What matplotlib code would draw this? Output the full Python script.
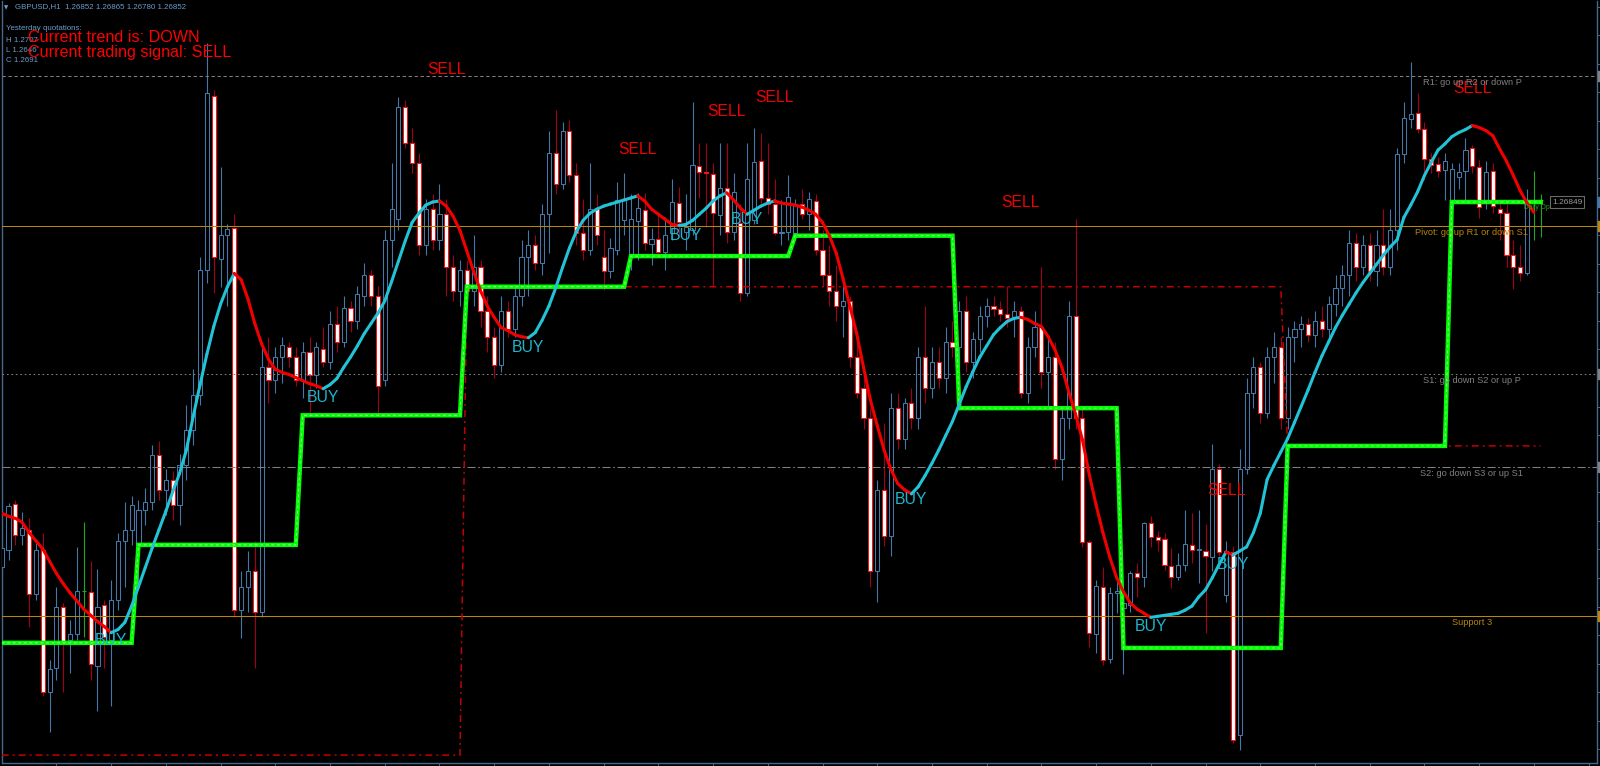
import numpy as np
import matplotlib
matplotlib.use("Agg")
import matplotlib.pyplot as plt
import matplotlib.transforms as mtrans
from matplotlib.collections import LineCollection
from matplotlib.patches import Rectangle
from matplotlib.ticker import MultipleLocator

plt.rcParams['font.family'] = ['Liberation Sans', 'DejaVu Sans']
plt.rcParams['lines.scale_dashes'] = False

# ---------------- GBPUSD H1 quotes ----------------
opens = [
    1.26133, 1.26167, 1.26257, 1.26197, 1.26207, 1.26081, 1.26167, 1.25889, 1.25935, 1.26055,
    1.25991, 1.26003, 1.26087, 1.26085, 1.25939, 1.26059, 1.25991, 1.26069, 1.26185, 1.26207,
    1.26177, 1.26245, 1.26261, 1.26353, 1.26285, 1.26305, 1.26255, 1.26333, 1.26403, 1.26471,
    1.26715, 1.27057, 1.26737, 1.26785, 1.26799, 1.26049, 1.26095, 1.26125, 1.26045, 1.26525,
    1.26501, 1.26545, 1.26565, 1.26545, 1.26501, 1.26555, 1.26509, 1.26561, 1.26535, 1.26609,
    1.26575, 1.26641, 1.26615, 1.26665, 1.26705, 1.26665, 1.26501, 1.26775, 1.26815, 1.27035,
    1.26965, 1.26925, 1.26765, 1.26835, 1.26775, 1.26825, 1.26721, 1.26675, 1.26715, 1.26675,
    1.26721, 1.26635, 1.26585, 1.26529, 1.26635, 1.26601, 1.26665, 1.26741, 1.26765, 1.26729,
    1.26825, 1.26945, 1.26885, 1.26989, 1.26901, 1.26789, 1.26755, 1.26835, 1.26741, 1.26713,
    1.26755, 1.26813, 1.26741, 1.26811, 1.26833, 1.26767, 1.26777, 1.26751, 1.26789, 1.26847,
    1.26791, 1.26795, 1.26919, 1.26907, 1.26903, 1.26823, 1.26877, 1.26791, 1.26807, 1.26671,
    1.26813, 1.26929, 1.26857, 1.26845, 1.26789, 1.26791, 1.26789, 1.26845, 1.26825, 1.26851,
    1.26755, 1.26705, 1.26675, 1.26645, 1.26655, 1.26545, 1.26485, 1.26425, 1.26125, 1.26285,
    1.26195, 1.26445, 1.26385, 1.26455, 1.26425, 1.26545, 1.26485, 1.26535, 1.26505, 1.26575,
    1.26565, 1.26635, 1.26535, 1.26581, 1.26625, 1.26645, 1.26639, 1.26629, 1.26621, 1.26635,
    1.26475, 1.26565, 1.26605, 1.26515, 1.26545, 1.26345, 1.26425, 1.26625, 1.26425, 1.26183,
    1.26003, 1.26095, 1.25953, 1.26083, 1.26053, 1.26059, 1.26121, 1.26115, 1.26219, 1.26193,
    1.26189, 1.26135, 1.26115, 1.26137, 1.26177, 1.26167, 1.26165, 1.26153, 1.26325, 1.26079,
    1.26163, 1.25805, 1.26325, 1.26475, 1.26525, 1.26435, 1.26545, 1.26565, 1.26425, 1.26585,
    1.26601, 1.26609, 1.26589, 1.26615, 1.26601, 1.26649, 1.26681, 1.26705, 1.26769, 1.26721,
    1.26765, 1.26713, 1.26765, 1.26721, 1.26795, 1.26943, 1.27011, 1.27023, 1.26993, 1.26933,
    1.26923, 1.26911, 1.26853, 1.26899, 1.26909, 1.26955, 1.26917, 1.26853, 1.26909, 1.26835,
    1.26827, 1.26745, 1.26721, 1.26709, 1.26851, 1.26852,
]
highs = [
    1.26187, 1.26259, 1.26265, 1.26241, 1.26229, 1.26181, 1.26201, 1.25951, 1.26095, 1.26063,
    1.26029, 1.26173, 1.26221, 1.26145, 1.26129, 1.26069, 1.26109, 1.26201, 1.26261, 1.26273,
    1.26265, 1.26289, 1.26373, 1.26381, 1.26325, 1.26321, 1.26355, 1.26451, 1.26521, 1.26741,
    1.27161, 1.27069, 1.26917, 1.26805, 1.26825, 1.26125, 1.26165, 1.26185, 1.26575, 1.26585,
    1.26565, 1.26585, 1.26575, 1.26565, 1.26575, 1.26585, 1.26575, 1.26605, 1.26635, 1.26645,
    1.26665, 1.26655, 1.26685, 1.26729, 1.26715, 1.26685, 1.26795, 1.26925, 1.27055, 1.27049,
    1.26995, 1.26945, 1.26855, 1.26865, 1.26885, 1.26855, 1.26745, 1.26735, 1.26735, 1.26785,
    1.26735, 1.26665, 1.26605, 1.26665, 1.26655, 1.26685, 1.26775, 1.26795, 1.26785, 1.26845,
    1.26989, 1.27029, 1.27005, 1.27009, 1.26925, 1.26855, 1.26925, 1.26865, 1.26795, 1.26779,
    1.26889, 1.26905, 1.26865, 1.26867, 1.26867, 1.26799, 1.26823, 1.26819, 1.26895, 1.26879,
    1.26865, 1.27045, 1.26965, 1.26965, 1.26925, 1.26965, 1.26965, 1.26905, 1.26845, 1.26965,
    1.26995, 1.26985, 1.26965, 1.26895, 1.26853, 1.26901, 1.26855, 1.26875, 1.26869, 1.26865,
    1.26795, 1.26765, 1.26725, 1.26685, 1.26665, 1.26585, 1.26525, 1.26445, 1.26305, 1.26415,
    1.26475, 1.26475, 1.26465, 1.26485, 1.26565, 1.26645, 1.26565, 1.26565, 1.26605, 1.26615,
    1.26655, 1.26665, 1.26595, 1.26645, 1.26661, 1.26665, 1.26655, 1.26685, 1.26655, 1.26645,
    1.26585, 1.26635, 1.26721, 1.26585, 1.26575, 1.26445, 1.26655, 1.26815, 1.26445, 1.26187,
    1.26109, 1.26133, 1.26095, 1.26105, 1.26075, 1.26125, 1.26141, 1.26221, 1.26233, 1.26205,
    1.26201, 1.26171, 1.26161, 1.26245, 1.26239, 1.26245, 1.26217, 1.26375, 1.26335, 1.26185,
    1.26175, 1.26365, 1.26505, 1.26545, 1.26535, 1.26565, 1.26595, 1.26585, 1.26605, 1.26615,
    1.26625, 1.26621, 1.26635, 1.26645, 1.26665, 1.26705, 1.26725, 1.26795, 1.26789, 1.26785,
    1.26789, 1.26795, 1.26835, 1.26835, 1.26955, 1.27045, 1.27123, 1.27063, 1.27005, 1.26945,
    1.26937, 1.26945, 1.26925, 1.26925, 1.26975, 1.26961, 1.26931, 1.26929, 1.26925, 1.26845,
    1.26845, 1.26775, 1.26765, 1.26875, 1.26909, 1.26865,
]
lows = [
    1.26117, 1.26147, 1.26177, 1.26177, 1.26017, 1.26069, 1.25881, 1.25811, 1.25913, 1.25889,
    1.25925, 1.25991, 1.25997, 1.25913, 1.25851, 1.25935, 1.25861, 1.26049, 1.26095, 1.26177,
    1.26095, 1.26215, 1.26245, 1.26265, 1.26235, 1.26225, 1.26215, 1.26305, 1.26373, 1.26451,
    1.26691, 1.26671, 1.26683, 1.26645, 1.26035, 1.25995, 1.26045, 1.25935, 1.26035, 1.26455,
    1.26475, 1.26495, 1.26525, 1.26489, 1.26465, 1.26435, 1.26485, 1.26525, 1.26521, 1.26555,
    1.26565, 1.26595, 1.26601, 1.26645, 1.26645, 1.26435, 1.26489, 1.26721, 1.26795, 1.26955,
    1.26905, 1.26745, 1.26745, 1.26755, 1.26755, 1.26665, 1.26655, 1.26645, 1.26655, 1.26645,
    1.26605, 1.26555, 1.26505, 1.26515, 1.26585, 1.26585, 1.26645, 1.26665, 1.26715, 1.26705,
    1.26749, 1.26865, 1.26875, 1.26889, 1.26765, 1.26735, 1.26745, 1.26765, 1.26677, 1.26701,
    1.26745, 1.26785, 1.26715, 1.26735, 1.26755, 1.26725, 1.26749, 1.26715, 1.26775, 1.26781,
    1.26755, 1.26785, 1.26857, 1.26801, 1.26683, 1.26785, 1.26769, 1.26775, 1.26655, 1.26665,
    1.26805, 1.26845, 1.26825, 1.26785, 1.26765, 1.26775, 1.26775, 1.26815, 1.26795, 1.26745,
    1.26685, 1.26645, 1.26615, 1.26585, 1.26525, 1.26465, 1.26405, 1.26095, 1.26065, 1.26175,
    1.26155, 1.26365, 1.26365, 1.26405, 1.26405, 1.26455, 1.26465, 1.26485, 1.26475, 1.26545,
    1.26525, 1.26515, 1.26505, 1.26555, 1.26605, 1.26625, 1.26615, 1.26605, 1.26585, 1.26465,
    1.26455, 1.26545, 1.26485, 1.26445, 1.26325, 1.26305, 1.26405, 1.26405, 1.26173, 1.25977,
    1.25965, 1.25941, 1.25945, 1.26043, 1.25923, 1.26045, 1.26075, 1.26095, 1.26173, 1.26165,
    1.26127, 1.26093, 1.26109, 1.26125, 1.26141, 1.26103, 1.26005, 1.26125, 1.26155, 1.26065,
    1.25789, 1.25775, 1.26315, 1.26445, 1.26415, 1.26425, 1.26495, 1.26405, 1.26405, 1.26535,
    1.26565, 1.26575, 1.26565, 1.26585, 1.26575, 1.26625, 1.26645, 1.26665, 1.26695, 1.26705,
    1.26695, 1.26685, 1.26705, 1.26705, 1.26755, 1.26925, 1.26995, 1.26985, 1.26893, 1.26905,
    1.26899, 1.26853, 1.26835, 1.26875, 1.26853, 1.26905, 1.26817, 1.26835, 1.26827, 1.26775,
    1.26721, 1.26679, 1.26695, 1.26705, 1.26775, 1.26780,
]
closes = [
    1.26171, 1.26253, 1.26197, 1.26211, 1.26081, 1.26167, 1.25889, 1.25933, 1.26055, 1.25985,
    1.26003, 1.26087, 1.26087, 1.25943, 1.26055, 1.25997, 1.26069, 1.26185, 1.26207, 1.26255,
    1.26245, 1.26261, 1.26353, 1.26285, 1.26305, 1.26255, 1.26333, 1.26403, 1.26471, 1.26715,
    1.27063, 1.26741, 1.26785, 1.26797, 1.26049, 1.26095, 1.26125, 1.26045, 1.26525, 1.26501,
    1.26545, 1.26569, 1.26545, 1.26501, 1.26555, 1.26509, 1.26565, 1.26535, 1.26609, 1.26575,
    1.26641, 1.26615, 1.26669, 1.26705, 1.26665, 1.26489, 1.26775, 1.26835, 1.27035, 1.26965,
    1.26925, 1.26765, 1.26835, 1.26775, 1.26825, 1.26721, 1.26675, 1.26715, 1.26675, 1.26721,
    1.26635, 1.26585, 1.26529, 1.26635, 1.26601, 1.26665, 1.26741, 1.26765, 1.26729, 1.26825,
    1.26945, 1.26885, 1.26989, 1.26901, 1.26789, 1.26755, 1.26835, 1.26785, 1.26713, 1.26759,
    1.26853, 1.26855, 1.26815, 1.26837, 1.26769, 1.26777, 1.26751, 1.26785, 1.26849, 1.26809,
    1.26801, 1.26921, 1.26907, 1.26905, 1.26827, 1.26877, 1.26791, 1.26869, 1.26671, 1.26895,
    1.26927, 1.26857, 1.26845, 1.26789, 1.26791, 1.26859, 1.26845, 1.26825, 1.26855, 1.26755,
    1.26705, 1.26675, 1.26645, 1.26655, 1.26545, 1.26475, 1.26425, 1.26125, 1.26285, 1.26195,
    1.26445, 1.26385, 1.26455, 1.26425, 1.26545, 1.26485, 1.26535, 1.26505, 1.26575, 1.26565,
    1.26635, 1.26535, 1.26581, 1.26625, 1.26645, 1.26639, 1.26629, 1.26621, 1.26635, 1.26475,
    1.26565, 1.26605, 1.26515, 1.26545, 1.26345, 1.26425, 1.26625, 1.26425, 1.26183, 1.26005,
    1.26097, 1.25951, 1.26083, 1.26087, 1.26063, 1.26121, 1.26115, 1.26219, 1.26193, 1.26187,
    1.26137, 1.26115, 1.26137, 1.26179, 1.26167, 1.26169, 1.26155, 1.26325, 1.26163, 1.26165,
    1.25795, 1.26325, 1.26475, 1.26525, 1.26435, 1.26545, 1.26565, 1.26425, 1.26585, 1.26601,
    1.26609, 1.26589, 1.26615, 1.26601, 1.26649, 1.26681, 1.26705, 1.26769, 1.26721, 1.26765,
    1.26713, 1.26765, 1.26721, 1.26795, 1.26943, 1.27013, 1.27021, 1.26993, 1.26933, 1.26921,
    1.26909, 1.26929, 1.26913, 1.26907, 1.26951, 1.26919, 1.26839, 1.26907, 1.26841, 1.26827,
    1.26745, 1.26721, 1.26709, 1.26845, 1.26851, 1.26852,
]

# smoothed trend line (one value per bar, current bar excluded)
trend_ma = [
    1.26239, 1.26233, 1.26229, 1.26221, 1.26201, 1.26185, 1.26169, 1.26145, 1.26121, 1.26101,
    1.26083, 1.26067, 1.26051, 1.26039, 1.26027, 1.26017, 1.26005, 1.26011, 1.26025, 1.26057,
    1.26095, 1.26133, 1.26171, 1.26207, 1.26243, 1.26281, 1.26317, 1.26363, 1.26429, 1.26491,
    1.26551, 1.26605, 1.26649, 1.26683, 1.26709, 1.26697, 1.26659, 1.26611, 1.26571, 1.26541,
    1.26521, 1.26515, 1.26511, 1.26505, 1.26499, 1.26493, 1.26489, 1.26483, 1.26491, 1.26503,
    1.26525, 1.26545, 1.26567, 1.26591, 1.26611, 1.26631, 1.26655, 1.26693, 1.26733, 1.26773,
    1.26809, 1.26827, 1.26843, 1.26849, 1.26851, 1.26841, 1.26821, 1.26793, 1.26753, 1.26713,
    1.26675, 1.26645, 1.26623, 1.26603, 1.26597, 1.26589, 1.26585, 1.26583, 1.26593, 1.26617,
    1.26645, 1.26681, 1.26721, 1.26759, 1.26791, 1.26813, 1.26827, 1.26835, 1.26841, 1.26845,
    1.26849, 1.26853, 1.26857, 1.26861, 1.26851, 1.26835, 1.26825, 1.26815, 1.26805, 1.26803,
    1.26805, 1.26813, 1.26825, 1.26837, 1.26851, 1.26861, 1.26867, 1.26853, 1.26837, 1.26825,
    1.26833, 1.26841, 1.26847, 1.26851, 1.26847, 1.26845, 1.26843, 1.26839, 1.26833, 1.26825,
    1.26809, 1.26783, 1.26749, 1.26699, 1.26645, 1.26591, 1.26525, 1.26461, 1.26411, 1.26363,
    1.26325, 1.26297, 1.26285, 1.26277, 1.26291, 1.26313, 1.26337, 1.26363, 1.26391, 1.26419,
    1.26453, 1.26487, 1.26517, 1.26545, 1.26567, 1.26589, 1.26603, 1.26615, 1.26621, 1.26623,
    1.26619, 1.26611, 1.26605, 1.26585, 1.26559, 1.26525, 1.26477, 1.26433, 1.26383, 1.26315,
    1.26255, 1.26201, 1.26153, 1.26113, 1.26085, 1.26063, 1.26051, 1.26043, 1.26035, 1.26037,
    1.26039, 1.26041, 1.26043, 1.26049, 1.26057, 1.26075, 1.26089, 1.26113, 1.26139, 1.26163,
    1.26157, 1.26165, 1.26173, 1.26201, 1.26239, 1.26305, 1.26333, 1.26359, 1.26385, 1.26417,
    1.26449, 1.26481, 1.26515, 1.26547, 1.26575, 1.26603, 1.26627, 1.26649, 1.26671, 1.26691,
    1.26709, 1.26727, 1.26745, 1.26761, 1.26775, 1.26819, 1.26843, 1.26869, 1.26901, 1.26927,
    1.26951, 1.26963, 1.26977, 1.26985, 1.26991, 1.26999, 1.26995, 1.26989, 1.26979, 1.26953,
    1.26929, 1.26901, 1.26871, 1.26847, 1.26829,
]

# daily and weekly opening levels (first bar of each period)
day_start = [0, 20, 44, 68, 92, 116, 140, 164, 188, 212]
day_open = [1.25985, 1.26177, 1.26431, 1.26683, 1.26743, 1.26783, 1.26445, 1.25975, 1.26371, 1.26849]
week_start = [0, 68, 188]
week_open = [1.25765, 1.26683, 1.26371]

# pivot levels
level_prices = [1.27096, 1.26802, 1.26512, 1.26330, 1.26038]
level_texts = ["R1: go up R2 or down P", "Pivot: go up R1 or down S1",
               "S1: go down S2 or up P", "S2: go down S3 or up S1", "Support 3"]

# trade signals
signal_bar = [16, 47, 65, 77, 93, 100, 106, 109, 113, 133, 149, 168, 179, 180, 215]
signal_price = [1.25989, 1.26465, 1.27109, 1.26563, 1.26951, 1.26783, 1.27027, 1.26815,
                1.27053, 1.26265, 1.26849, 1.26017, 1.26283, 1.26139, 1.27071]
signal_text = ["BUY", "BUY", "SELL", "BUY", "SELL", "BUY", "SELL", "BUY",
               "SELL", "BUY", "SELL", "BUY", "SELL", "BUY", "SELL"]

yest_high, yest_low, yest_close = "1.2707", "1.2646", "1.2691"
symbol = "GBPUSD,H1"

# ---------------- styling ----------------
BG = "black"
FRAME = "#44698f"
BULL = "#4577a8"
BEAR_EDGE = "#ff1010"
BEAR_WICK = "#a0001c"
DOJI = "#1fa81f"
CYAN = "#22c3d6"
RED = "#f20000"
GREY = "#808080"
GOLD = "#b8860b"
INFO = "#6c9bcb"

W, H = 1600, 766
fig = plt.figure(figsize=(W / 100, H / 100), dpi=100, facecolor=BG)
ax = fig.add_axes([2 / W, 3 / H, 1595 / W, 762 / H], facecolor=BG)

o = np.array(opens); h = np.array(highs); l = np.array(lows); c = np.array(closes)
n = len(o)
x = np.arange(n)
ax.set_xlim(0.044, 233.23)
ax.set_ylim(1.257495, 1.27243)

# pivot lines
level_colors = [GREY, GOLD, GREY, GREY, GOLD]
level_styles = [(0, (2.4, 1.9)), "-", (0, (1.2, 2.0)), (0, (5.8, 1.9, 1.2, 1.9)), "-"]
for price, txt, col, ls in zip(level_prices, level_texts, level_colors, level_styles):
    ax.axhline(price, color=col, lw=0.75, ls=ls, zorder=4)
    ax.annotate(txt, xy=(0.9216, price), xycoords=("axes fraction", "data"),
                xytext=(0, -4.7), textcoords="offset points", ha="center", va="center",
                fontsize=6.7, color=col, zorder=8)

# candles
bull = c > o
bear = c < o
doji = c == o
ax.vlines(x[bull], l[bull], h[bull], color=BULL, lw=0.8, zorder=2)
ax.vlines(x[bear], l[bear], h[bear], color=BEAR_WICK, lw=0.8, zorder=2)
ax.bar(x[bull], (c - o)[bull], bottom=o[bull], width=0.6, facecolor=BG,
       edgecolor=BULL, lw=0.75, zorder=3)
ax.bar(x[bear], (o - c)[bear], bottom=c[bear], width=0.6, facecolor="white",
       edgecolor=BEAR_EDGE, lw=0.75, zorder=3)
ax.vlines(x[doji], l[doji], h[doji], color=DOJI, lw=0.8, zorder=3)
ax.hlines(o[doji], x[doji] - 0.3, x[doji] + 0.3, color=DOJI, lw=0.8, zorder=3)

# weekly open (dash-dot) and daily open (thick step)
wk = np.array(week_open)[np.searchsorted(week_start, x, side="right") - 1]
ax.plot(x, wk, color="#c40000", lw=1.1, ls=(0, (5, 2.9, 1.4, 2.9)), zorder=4.5)
dy = np.array(day_open)[np.searchsorted(day_start, x, side="right") - 1]
ax.plot(x, dy, color="#00ff00", lw=3.2, zorder=5, solid_joinstyle="miter")
ax.plot(x, dy, color="#b4ffb4", lw=0.6, ls=(0, (2, 2)), zorder=5.1)

# trend line: cyan while rising, red while falling
ma = np.array(trend_ma)
mx = np.arange(len(ma))
pts = np.column_stack([mx, ma])
segs = np.stack([pts[:-1], pts[1:]], axis=1)
cols = [CYAN if b > a else RED for a, b in zip(ma[:-1], ma[1:])]
ax.add_collection(LineCollection(segs, colors=cols, linewidths=2.2,
                                 capstyle="round", zorder=6))

# signal labels
for b, p, t in zip(signal_bar, signal_price, signal_text):
    ax.text(b, p, t, color=RED if t == "SELL" else "#1db6cc", fontsize=11.3,
            ha="center", va="center", zorder=7)

# current price tag and daily open caption
last_open = day_open[-1]
blend = mtrans.blended_transform_factory(ax.transAxes, ax.transData)
ax.text(0.9812, last_open, f"{last_open:.5f}", transform=blend,
        color="#9a9a9a", fontsize=6, ha="center", va="center", zorder=9,
        bbox=dict(boxstyle="square,pad=0.25", fc=BG, ec="#6a6a6a", lw=0.8))
ax.annotate("Daily Open", xy=(n - 1, last_open), xytext=(0, -3.6), textcoords="offset points",
            ha="center", va="center", fontsize=4.8, color=DOJI, zorder=8)

# right-edge price tags
tag_prices = [level_prices[0], last_open, level_prices[1], level_prices[2], level_prices[3], level_prices[4]]
tag_cols = [GREY, BULL, GOLD, GREY, GREY, GOLD]
for p, col in zip(tag_prices, tag_cols):
    ax.add_patch(Rectangle((1.0004, p - 0.0001), 0.0025, 0.0002, transform=blend,
                           color=col, clip_on=False, zorder=9))

# frame and ticks
for s in ("left", "bottom", "right"):
    ax.spines[s].set_color(FRAME)
    ax.spines[s].set_linewidth(1.0)
ax.spines["top"].set_visible(False)
ax.xaxis.set_major_locator(MultipleLocator(8))
ax.yaxis.set_major_locator(MultipleLocator(0.00056))
ax.tick_params(axis="x", bottom=True, labelbottom=False, direction="out", length=2.5,
               width=0.7, color=FRAME)
ax.tick_params(axis="y", left=False, right=True, labelleft=False, labelright=False,
               direction="out", length=2.5, width=0.7, color=FRAME)

# header texts
fig.text(6.5 / W, 1 - 7.5 / H, "\u25bc", color=INFO, fontsize=4, ha="center", va="center",
         family=["DejaVu Sans"])
fig.text(15 / W, 1 - 7 / H, f"{symbol}  {o[-1]:.5f} {h[-1]:.5f} {l[-1]:.5f} {c[-1]:.5f}",
         color=INFO, fontsize=5.7, ha="left", va="center")
fig.text(6 / W, 1 - 29 / H, "Yesterday quotations:", color=INFO, fontsize=5.7, va="center")
fig.text(6 / W, 1 - 40 / H, f"H {yest_high}", color=INFO, fontsize=5.7, va="center")
fig.text(6 / W, 1 - 50 / H, f"L {yest_low}", color=INFO, fontsize=5.7, va="center")
fig.text(6 / W, 1 - 61 / H, f"C {yest_close}", color=INFO, fontsize=5.7, va="center")
fig.text(28 / W, 1 - 37 / H, "Current trend is: DOWN", color="#ff0000", fontsize=11.6, va="center")
fig.text(28 / W, 1 - 53 / H, "Current trading signal: SELL", color="#ff0000", fontsize=11.6, va="center")

fig.savefig("out.png", dpi=100, facecolor=BG)
